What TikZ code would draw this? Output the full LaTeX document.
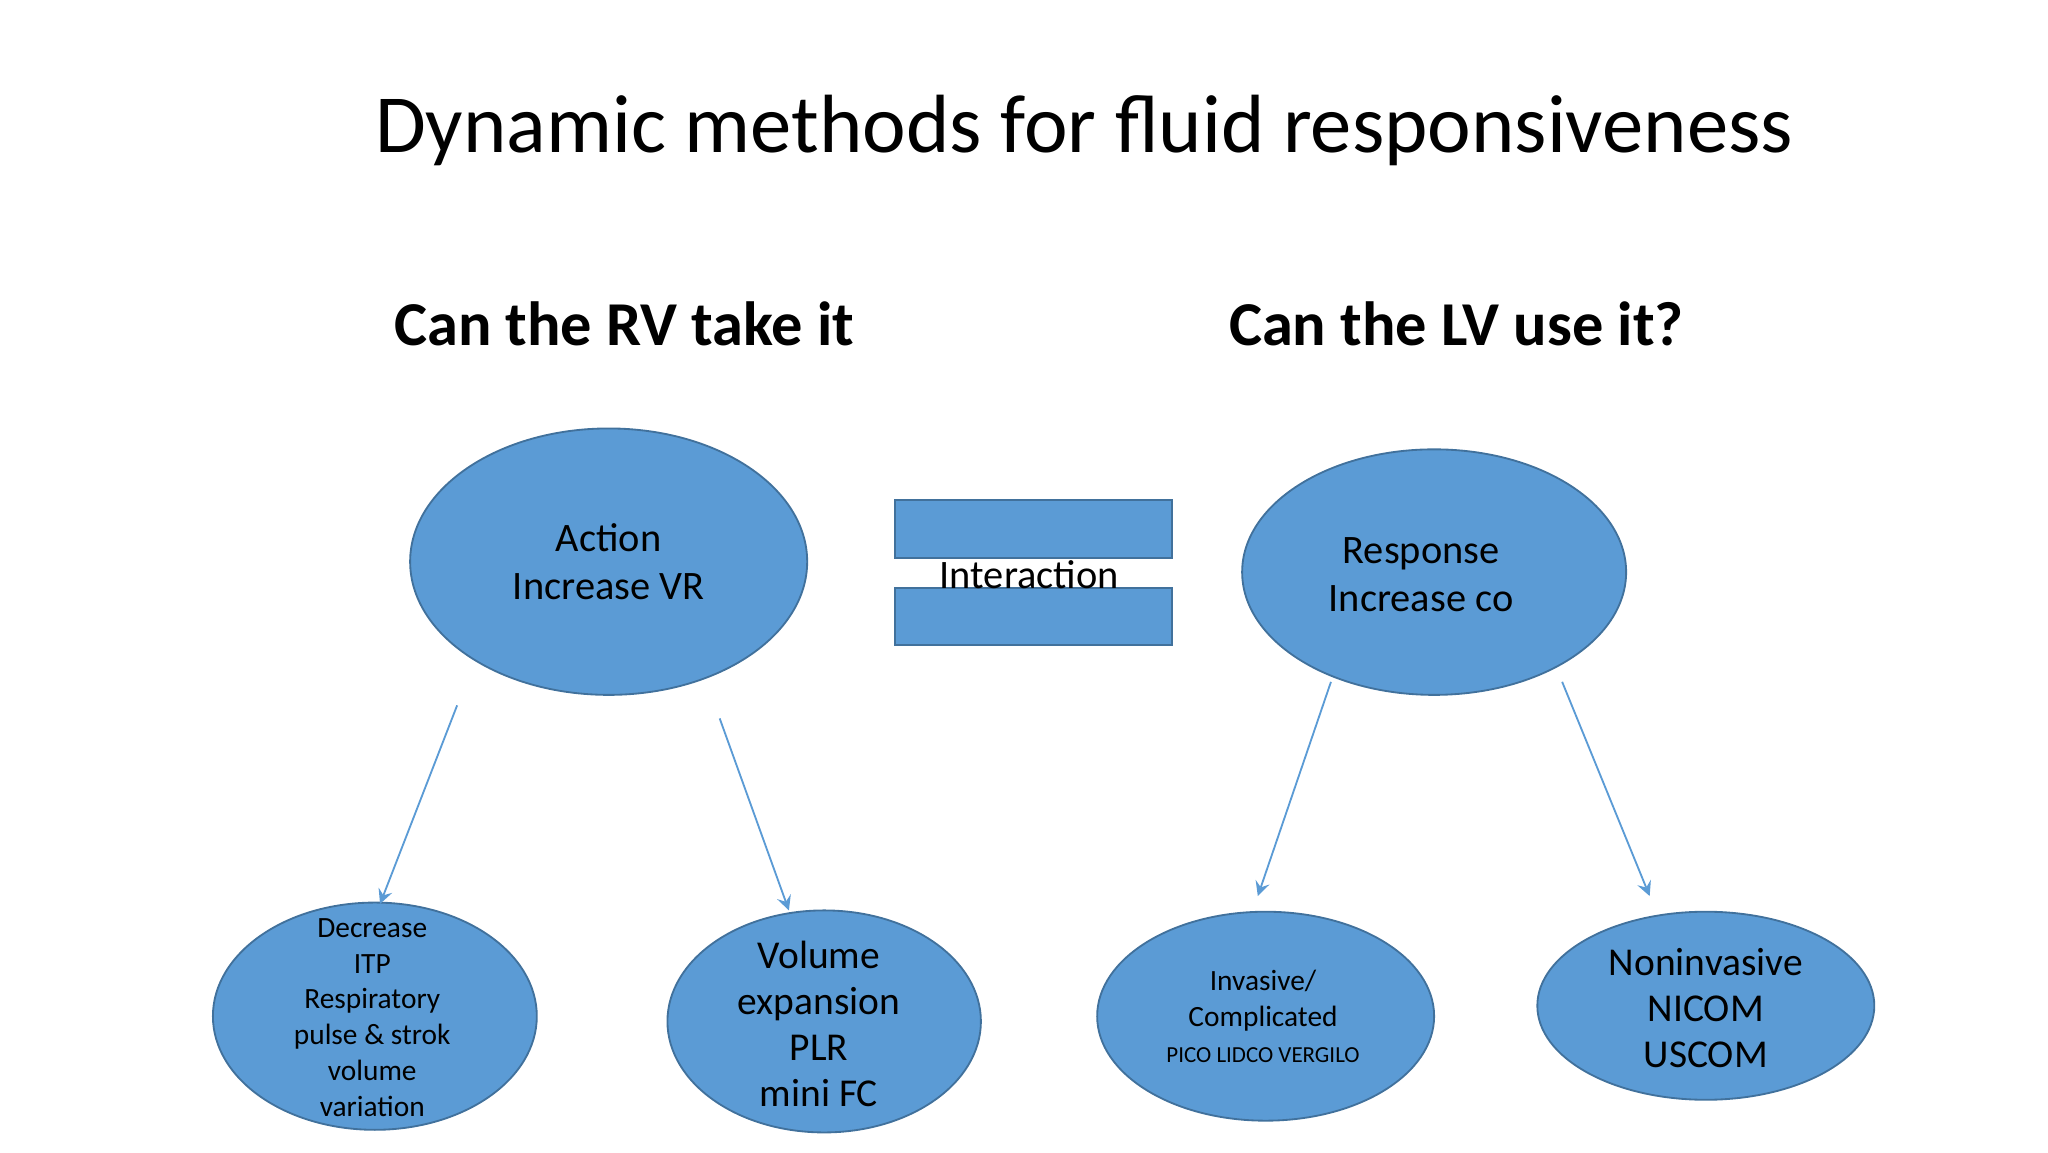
\documentclass[tikz,border=0pt]{standalone}
\usepackage{fontspec}
\setmainfont{Carlito}
\usetikzlibrary{shapes.geometric}
\definecolor{oval}{HTML}{5B9BD5}
\definecolor{ovalline}{HTML}{41719C}
\tikzset{
  bubble/.style={ellipse,draw=ovalline,fill=oval,inner sep=0pt},
  txt/.style={align=center,inner sep=0pt},
  bar/.style={draw=ovalline,fill=oval},
  link/.style={->,draw=oval,thin,>=stealth},
}
\begin{document}
\begin{tikzpicture}[x=1cm,y=-1cm]
	\useasboundingbox (0,0) rectangle (15.68,8.82);
	% headings
	\node[font=\fontsize{18}{22}\selectfont] (title) at (8.30,1.00) {Dynamic methods for fluid responsiveness};
	\node[font=\fontsize{13.6}{18}\selectfont\bfseries] (rv) at (4.78,2.48) {Can the RV take it};
	\node[font=\fontsize{13.6}{18}\selectfont\bfseries] (lv) at (11.15,2.48) {Can the LV use it?};
	
	% the big ovals
	\node[bubble,minimum width=3.04cm,minimum height=2.04cm] (action) at (4.66,4.30) {};
	\node[txt,font=\fontsize{8.8}{10.3}\selectfont] at (action) {Action\\Increase VR};
	\node[bubble,minimum width=2.94cm,minimum height=1.88cm] (response) at (10.98,4.38) {};
	\node[txt,font=\fontsize{8.8}{10.3}\selectfont] at (10.88,4.40) {Response\\Increase co};
	
	% equals sign
	\draw[bar] (6.85,3.83) rectangle (8.97,4.27);
	\draw[bar] (6.85,4.50) rectangle (8.97,4.94);
	\node[font=\fontsize{8.8}{12}\selectfont] (inter) at (7.88,4.40) {Interaction};
	
	% the small ovals
	\node[bubble,minimum width=2.48cm,minimum height=1.74cm] (decrease) at (2.87,7.78) {};
	\node[txt,font=\fontsize{6.4}{7.8}\selectfont] at (2.85,7.79) {Decrease\\ITP\\Respiratory\\pulse \& strok\\volume\\variation};
	\node[bubble,minimum width=2.40cm,minimum height=1.70cm] (volume) at (6.31,7.82) {};
	\node[txt,font=\fontsize{8.6}{10}\selectfont] at (6.27,7.84) {Volume\\expansion\\PLR\\mini FC};
	\node[bubble,minimum width=2.58cm,minimum height=1.60cm] (invasive) at (9.69,7.78) {};
	\node[txt,font=\fontsize{6.4}{7.8}\selectfont] at (9.67,7.78) {Invasive/\\Complicated\\{\fontsize{5}{6}\selectfont PICO LIDCO VERGILO}};
	\node[bubble,minimum width=2.58cm,minimum height=1.44cm] (noninv) at (13.06,7.70) {};
	\node[txt,font=\fontsize{8.6}{10}\selectfont] at (13.06,7.72) {Noninvasive\\NICOM\\USCOM};
	
	% arrows
	\coordinate (a1) at (3.50,5.40);
	\coordinate (a2) at (5.51,5.50);
	\coordinate (a3) at (10.19,5.22);
	\coordinate (a4) at (11.96,5.22);
	\draw[link] (a1) -- (2.91,6.92);
	\draw[link] (a2) -- (6.04,6.97);
	\draw[link] (a3) -- (9.63,6.86);
	\draw[link] (a4) -- (12.63,6.86);
\end{tikzpicture}
\end{document}
